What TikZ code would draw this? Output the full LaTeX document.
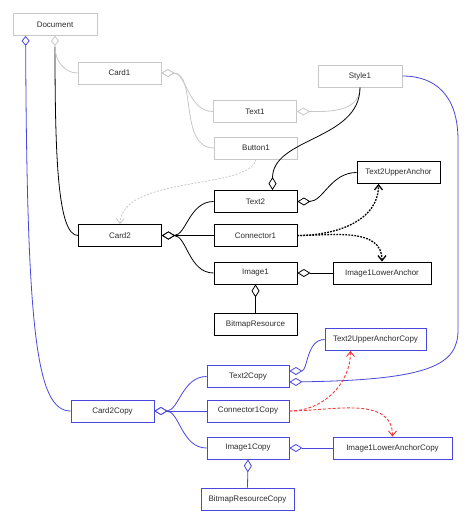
\documentclass[tikz,border=0pt]{standalone}
\usepackage{fontspec}
\setmainfont{Liberation Sans}
\usetikzlibrary{arrows.meta,calc}
\definecolor{lg}{RGB}{200,200,200}
\definecolor{bl}{RGB}{72,72,222}
\definecolor{rd}{RGB}{240,60,60}
\definecolor{tx}{RGB}{45,45,45}
\begin{document}
\begin{tikzpicture}[x=1pt,y=-1pt,
 box/.style={draw, rectangle, minimum width=83pt, minimum height=22pt, inner sep=0pt,
   font=\fontsize{8}{9}\selectfont, text=tx, fill=white, line width=0.8pt},
 gbox/.style={box, draw=lg},
 bbox/.style={box, draw=bl},
 kbox/.style={box, draw=black},
 dia/.style={{Diamond[open,length=13pt,width=8pt,fill=white]}-},
 sdia/.style={{Diamond[open,length=10pt,width=8pt,fill=white]}-},
 conn/.style={line width=0.8pt},
 vtip/.style={-{Straight Barb[length=5pt,width=8pt]}},
 dotk/.style={conn, line width=1.3pt, dash pattern=on 1.8pt off 1.2pt, vtip},
 dotr/.style={conn, draw=rd, line width=0.9pt, dash pattern=on 3pt off 1.8pt, vtip},
]
\useasboundingbox (0,0) rectangle (474,525);
\fill[white] (0,0) rectangle (474,525);

% nodes
\node[gbox, minimum width=84pt] (doc) at (55,24.5) {Document};
\node[gbox] (card1) at (119.5,73) {Card1};
\node[gbox] (text1) at (255,111.5) {Text1};
\node[gbox] (button1) at (256,148) {Button1};
\node[gbox, minimum width=84pt] (style1) at (360,76) {Style1};
\node[kbox] (t2ua) at (398.5,172.5) {Text2UpperAnchor};
\node[kbox] (text2) at (255.5,201.5) {Text2};
\node[kbox] (card2) at (120,235.5) {Card2};
\node[kbox] (conn1) at (255.5,235.5) {Connector1};
\node[kbox] (image1) at (255.5,273) {Image1};
\node[kbox, minimum width=98pt] (i1la) at (382,273) {Image1LowerAnchor};
\node[kbox] (bitmap) at (255.5,324) {BitmapResource};
\node[bbox, minimum width=101pt] (t2uac) at (375.5,339.5) {Text2UpperAnchorCopy};
\node[bbox, minimum width=82pt] (text2c) at (248,376.5) {Text2Copy};
\node[bbox] (card2c) at (112.5,411) {Card2Copy};
\node[bbox, minimum width=82pt] (conn1c) at (248,411) {Connector1Copy};
\node[bbox, minimum width=82pt] (image1c) at (248,448) {Image1Copy};
\node[bbox, minimum width=119pt] (i1lac) at (392.5,448) {Image1LowerAnchorCopy};
\node[bbox, minimum width=93pt] (bitmapc) at (247.5,499) {BitmapResourceCopy};

\coordinate (dgray) at ($(doc.south)+(0,11)$);
\coordinate (dblue) at ($(doc.south west)+(13,0)$);
\coordinate (bturn) at (458,330);
\coordinate (bturn2) at (458,140);

% Document links
\draw[conn, draw=black] (dgray) .. controls (55,160) and (58,235.5) .. (card2.west);
\draw[conn, draw=lg, sdia] (doc.south) -- (dgray) to[out=-90,in=180] (card1.west);
\draw[conn, draw=bl, sdia] (dblue) .. controls (27,330) and (36,411) .. (card2c.west);

% Card1 group (gray)
\draw[conn, draw=lg, dia] (card1.east) to[out=0,in=180] (text1.west);
\draw[conn, draw=lg, dia] (card1.east) to[out=0,in=180] (button1.west);
\draw[conn, draw=lg, dia] (text1.east) to[out=0,in=-90] (style1.south);
\draw[conn, draw=lg, dash pattern=on 2pt off 1.5pt, -{Straight Barb[length=5pt,width=8pt]}]
  (button1.south) .. controls (250,190) and (122,175) .. (card2.north);

% Card2 group (black)
\draw[conn, dia] ([xshift=17pt]text2.north) to[out=90,in=-90] (style1.south);
\draw[conn, dia] (text2.east) to[out=0,in=180] (t2ua.west);
\draw[conn, dia] (card2.east) to[out=0,in=180] (text2.west);
\draw[conn, dia] (card2.east) -- (conn1.west);
\draw[conn, dia] (card2.east) to[out=0,in=180] (image1.west);
\draw[dotk] (conn1.east) to[out=0,in=-90] ([xshift=-20pt]t2ua.south);
\draw[dotk] (conn1.east) to[out=0,in=90] (i1la.north);
\draw[conn, dia] (image1.east) -- (i1la.west);
\draw[conn, dia] (image1.south) -- (bitmap.north);

% Copy group (blue)
\draw[conn, draw=bl, dia] ([yshift=-5.5pt]text2c.east) .. controls (430,380) and (458,365) .. (bturn)
  -- (bturn2) .. controls (458,95) and (435,76) .. (style1.east);
\draw[conn, draw=bl, dia] ([yshift=5.5pt]text2c.east) to[out=0,in=180] (t2uac.west);
\draw[conn, draw=bl, dia] (card2c.east) to[out=0,in=180] (text2c.west);
\draw[conn, draw=bl, dia] (card2c.east) -- (conn1c.west);
\draw[conn, draw=bl, dia] (card2c.east) to[out=0,in=180] (image1c.west);
\draw[dotr] (conn1c.east) to[out=0,in=-90] ([xshift=-25pt]t2uac.south);
\draw[dotr] (conn1c.east) to[out=0,in=90] (i1lac.north);
\draw[conn, draw=bl, dia] (image1c.east) -- (i1lac.west);
\draw[conn, draw=bl, dia] (image1c.south) -- (bitmapc.north);
\end{tikzpicture}
\end{document}
